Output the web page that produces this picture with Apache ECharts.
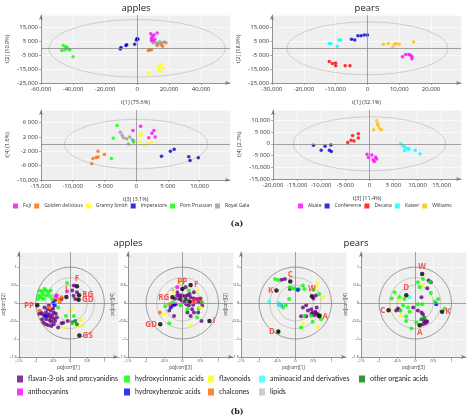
<!DOCTYPE html>
<html>
<head>
<meta charset="utf-8">
<script src="https://cdn.jsdelivr.net/npm/echarts@6/dist/echarts.min.js"></script>
<style>
  html, body { margin: 0; padding: 0; background: #fff; }
  #chart { width: 474px; height: 419px; }
</style>
</head>
<body>
<div id="chart"></div>
<script>
// cultivars and compound classes
const appleNames = ['Fuji', 'Golden delicious', 'Granny Smith', 'Imperatore', 'Pom Prussian', 'Royal Gala'];
const appleColors = ['#ff00ff', '#ff6a00', '#ffff00', '#0000cc', '#00ff00', '#999999'];
const pearNames = ['Abate', 'Conference', 'Decana', 'Kaiser', 'Williams'];
const pearColors = ['#ff00ff', '#0000cc', '#ff0000', '#00ffff', '#ffc000'];
const classNames = ['flavan-3-ols and procyanidins', 'anthocyanins', 'hydroxycinnamic acids', 'hydroxybenzoic acids',
  'flavonoids', 'chalcones', 'aminoacid and derivatives', 'lipids', 'other organic acids'];
const classColors = ['#660080', '#ff00ff', '#00ff00', '#0000ff', '#ffff00', '#ff6600', '#33ffff', '#c0c0c0', '#008000'];

// score plots: [t_a, t_b, cultivar index]
const appleT12 = [
  [8500, 10500, 0], [10500, 9500, 0], [12500, 11000, 0], [9500, 8500, 0], [9000, 7000, 0], [11000, 6500, 0], [9000, 5500, 0], [10000, 5000, 0],
  [7000, -1500, 1], [8000, -1000, 1], [9000, -1000, 1], [12500, 2000, 1], [15000, 2500, 1], [16000, 1500, 1], [18000, 4000, 1],
  [7500, -18000, 2], [14000, -13000, 2], [15000, -11500, 2], [16500, -14500, 2], [14500, -16500, 2], [13000, -15500, 2],
  [-10500, -500, 3], [-10000, 500, 3], [-7000, 2000, 3], [-6500, 2500, 3], [-1500, 3000, 3], [-500, 6000, 3], [0, 7000, 3], [500, 6500, 3],
  [-46000, 2000, 4], [-44000, 1000, 4], [-47000, -1500, 4], [-45000, -1000, 4], [-43000, -500, 4], [-42000, -1000, 4], [-44500, 500, 4], [-40000, -6000, 4],
  [10000, 4000, 5], [11500, 4500, 5], [13000, 3500, 5], [14000, 4500, 5], [15500, 4000, 5], [17000, 4500, 5], [12500, 3000, 5]
];
const appleT34 = [
  [-500, 3800, 0], [700, 5000, 0], [2500, 3000, 0], [2800, 3800, 0], [3000, 2000, 0], [2000, 1800, 0],
  [-6000, -2000, 1], [-6300, -3700, 1], [-6000, -3600, 1], [-5000, -2900, 1], [-6800, -4000, 1], [-7000, -5500, 1],
  [600, 2500, 2], [900, 2800, 2], [600, 700, 2], [1200, -300, 2], [1600, -100, 2], [2000, 100, 2], [2500, 500, 2],
  [4000, -3400, 3], [5400, -2000, 3], [6000, -1400, 3], [8300, -3500, 3], [8500, -4600, 3], [9800, -3800, 3],
  [-3000, 5200, 4], [-3600, 1600, 4], [-1200, 0, 4], [-400, 600, 4], [-3900, -4000, 4],
  [-2500, 3300, 5], [-2200, 2500, 5], [-2000, 1800, 5], [-1500, 1500, 5], [-1000, 2000, 5], [-600, 1200, 5], [-400, 900, 5]
];
const pearT12 = [
  [11000, -6000, 0], [12000, -4500, 0], [13000, -4500, 0], [13500, -5000, 0], [14000, -6000, 0], [14000, -7500, 0],
  [-5000, 6500, 1], [-4000, 6000, 1], [-3000, 9000, 1], [-2000, 9000, 1], [-1000, 9500, 1], [0, 9500, 1],
  [-12000, -9500, 2], [-11000, -11000, 2], [-10000, -10500, 2], [-10000, -12500, 2], [-7000, -12500, 2], [-5500, -12500, 2],
  [-12000, 3500, 3], [-11500, 3500, 3], [-9000, 6000, 3], [-8500, 6000, 3], [-9500, 1500, 3],
  [5000, 3000, 4], [6500, 3500, 4], [8500, 3000, 4], [9000, 3500, 4], [10000, 3000, 4], [8000, 1000, 4], [14500, 4500, 4]
];
const pearT34 = [
  [-500, -4500, 0], [-200, -5800, 0], [500, -4800, 0], [800, -6800, 0], [1000, -7500, 0], [1300, -5600, 0], [1500, -6500, 0],
  [-11600, -600, 1], [-10000, -2800, 1], [-9200, -1000, 1], [-8000, -500, 1], [-8300, -2800, 1], [-7900, -3300, 1],
  [-4500, 500, 2], [-3800, 1500, 2], [-3500, 3500, 2], [-2300, 4300, 2], [-2300, 2500, 2], [-3200, 1200, 2],
  [6500, -100, 3], [7000, -900, 3], [7400, -1600, 3], [7300, -3000, 3], [8000, -2000, 3], [8200, -2300, 3], [9500, -2700, 3], [10500, -4300, 3],
  [1500, 9800, 4], [1700, 8500, 4], [1800, 7800, 4], [900, 6000, 4], [2100, 6500, 4], [2500, 6000, 4]
];

// correlation loadings: [pq_a, pq_b, class index]
const appleP12 = [
  [-0.85, -0.26, 0], [-0.8, -0.31, 0], [-0.75, -0.36, 0], [-0.71, -0.26, 0], [-0.66, -0.37, 0], [-0.62, -0.31, 0], [-0.57, -0.4, 0],
  [-0.53, -0.34, 0], [-0.48, -0.43, 0], [-0.78, -0.54, 0], [-0.71, -0.59, 0], [-0.64, -0.62, 0], [-0.55, -0.64, 0], [-0.48, -0.59, 0],
  [-0.44, -0.5, 0], [-0.39, -0.4, 0], [-0.75, -0.12, 0], [-0.66, -0.17, 0], [-0.57, -0.21, 0], [-0.48, -0.26, 0], [-0.62, -0.07, 0],
  [-0.25, -0.56, 0], [-0.07, -0.5, 0], [0.06, -0.54, 0], [0.11, 0.49, 0], [0.06, 0.35, 0], [0.15, 0.11, 0], [-0.44, 0.07, 0],
  [-0.25, 0.11, 0], [-0.82, -0.45, 0], [-0.35, -0.68, 0], [-0.6, -0.48, 0], [-0.5, -0.15, 0], [-0.42, -0.3, 0], [-0.7, -0.45, 0],
  [0.2, 0.3, 0], [0.1, 0.2, 0], [-0.2, -0.55, 0], [-0.9, -0.3, 0], [-0.55, -0.52, 0],
  [-0.39, 0.22, 1], [-0.09, 0.32, 1], [-0.42, 0.18, 1],
  [-0.89, 0.35, 2], [-0.82, 0.32, 2], [-0.75, 0.39, 2], [-0.71, 0.35, 2], [-0.64, 0.3, 2], [-0.57, 0.35, 2], [-0.91, 0.21, 2],
  [-0.85, 0.16, 2], [-0.94, 0.11, 2], [-0.78, 0.11, 2], [-0.71, 0.21, 2], [-0.53, 0.11, 2], [-0.09, 0.56, 2], [-0.35, -0.12, 2],
  [-0.12, -0.36, 2], [0.11, -0.36, 2], [0.06, -0.56, 2], [-0.8, 0.25, 2], [-0.6, 0.2, 2],
  [-0.45, -0.06, 3], [-0.71, -0.36, 3], [-0.5, 0, 3],
  [0.05, -0.15, 4], [0, -0.21, 4], [0.31, -0.47, 4], [0.36, -0.64, 4], [0.2, -0.64, 4], [-0.18, -0.7, 4],
  [-0.89, -0.21, 5], [-0.25, 0.16, 5], [-0.35, 0.11, 5], [-0.62, -0.12, 5], [-0.3, 0.02, 5],
  [-0.52, 0.22, 7],
  [0.2, -0.59, 8], [0.15, -0.5, 8]
];
const appleP34 = [
  [-0.14, 0.21, 0], [-0.07, 0.22, 0], [0, 0.21, 0], [0.07, 0.19, 0], [0.14, 0.22, 0], [0.23, 0.16, 0], [0.32, 0.13, 0], [0.41, 0.11, 0],
  [0.5, 0.13, 0], [-0.09, 0.11, 0], [-0.02, 0.07, 0], [0.05, 0.02, 0], [0.11, -0.03, 0], [0.18, -0.07, 0], [0.27, -0.17, 0],
  [0.32, -0.26, 0], [0.23, -0.36, 0], [0.14, -0.26, 0], [-0.18, -0.03, 0], [-0.27, -0.07, 0], [-0.36, -0.21, 0], [-0.23, -0.36, 0],
  [0.45, 0.02, 0], [0.55, -0.07, 0], [-0.14, 0.3, 0], [0.44, -0.26, 0], [0.53, -0.5, 0], [0.09, 0.44, 0], [0.32, 0.3, 0],
  [-0.05, 0.15, 0], [0.1, 0.1, 0], [0.2, 0.25, 0], [-0.2, 0.12, 0], [0.3, -0.05, 0],
  [-0.14, 0.44, 1], [0.32, 0.06, 1],
  [-0.27, 0.02, 2], [-0.47, -0.09, 2], [-0.36, -0.56, 2], [0.14, -0.17, 2], [0.41, -0.4, 2], [-0.05, -0.07, 2], [0.55, 0.02, 2],
  [0.18, 0.35, 2], [0.45, -0.15, 2],
  [-0.32, -0.12, 3], [-0.22, -0.05, 3],
  [-0.09, 0.6, 4], [-0.02, 0.56, 4], [0.41, 0.35, 4], [0.5, -0.12, 4], [-0.5, -0.31, 4], [0.23, -0.64, 4], [-0.23, 0.3, 4],
  [-0.62, -0.26, 5], [-0.36, -0.03, 5], [0.27, 0.02, 5],
  [-0.27, 0.38, 7],
  [0.09, 0.12, 8]
];
const pearP12 = [
  [-0.38, 0.65, 0], [-0.29, 0.67, 0], [-0.15, 0.39, 0], [0.21, -0.12, 0], [0.3, -0.06, 0], [0.35, -0.21, 0], [0.44, -0.17, 0],
  [0.48, -0.26, 0], [0.55, -0.24, 0], [0.62, -0.31, 0], [0.53, -0.34, 0], [0.16, -0.37, 0], [0.3, -0.37, 0], [0.59, -0.12, 0],
  [0.57, 0.21, 0], [0.5, 0.13, 0], [0.58, -0.28, 0], [0.45, -0.3, 0],
  [-0.56, 0.67, 2], [-0.47, 0.64, 2], [-0.15, 0.44, 2], [-0.06, 0.41, 2], [0.01, 0.39, 2], [0.1, 0.39, 2], [0.21, 0.49, 2],
  [0.25, 0.39, 2], [0.5, 0.37, 2], [0.66, 0.25, 2], [-0.17, 0.11, 2], [-0.26, -0.06, 2], [-0.34, -0.12, 2], [-0.45, -0.03, 2],
  [0.25, -0.36, 2], [0.44, -0.36, 2], [0.48, -0.52, 2], [0.16, -0.68, 2], [0.71, -0.45, 2], [-0.47, -0.78, 2],
  [0.07, 0.36, 3], [-0.4, -0.06, 3],
  [0.6, 0.56, 4], [0.57, 0.44, 4], [0.77, 0.16, 4], [0.21, -0.56, 4], [0.62, -0.66, 4],
  [-0.72, 0.04, 6], [-0.45, 0, 6], [-0.41, -0.07, 6],
  [0.68, -0.34, 8]
];
const pearP34 = [
  [-0.53, -0.21, 0], [-0.48, -0.15, 0], [-0.44, -0.19, 0], [-0.06, -0.12, 0], [0.17, -0.26, 0], [0.21, -0.31, 0], [0.24, -0.5, 0],
  [0.28, -0.56, 0], [0.33, -0.52, 0], [0.21, -0.59, 0], [0.37, 0.63, 0], [0.43, 0.58, 0], [0.33, 0.41, 0], [0.17, 0.16, 0],
  [0.07, -0.21, 0], [0.3, -0.5, 0],
  [-0.57, 0.3, 2], [-0.65, 0.13, 2], [-0.44, 0.16, 2], [-0.3, 0.11, 2], [-0.34, -0.06, 2], [-0.41, -0.21, 2], [-0.2, -0.12, 2],
  [-0.16, -0.24, 2], [-0.25, -0.37, 2], [-0.25, -0.5, 2], [-0.11, -0.71, 2], [0.03, -0.54, 2], [0.07, 0.58, 2], [0.21, 0.67, 2],
  [0.12, 0.44, 2], [0.4, 0.58, 2], [0.43, 0.28, 2], [0.63, 0.11, 2], [0.81, -0.15, 2], [0.54, 0.04, 2], [0.07, -0.03, 2], [0.19, -0.03, 2],
  [0.58, -0.03, 3],
  [-0.44, 0.07, 4], [-0.69, -0.21, 4], [-0.41, -0.36, 4], [0.21, 0.5, 4],
  [-0.16, 0.16, 6],
  [0.17, -0.45, 8], [0.25, -0.4, 8]
];

// cultivar positions in the loading plots
const appleC12 = [[0.2, 0.47, 'F'], [0.26, 0.22, 'RG'], [0.25, 0.09, 'GD'], [-0.96, -0.06, 'PP'], [-0.11, 0.17, 'I'], [0.27, -0.9, 'GS']];
const appleC34 = [[0.23, 0.5, 'F'], [0, 0.39, 'PP'], [-0.27, 0.16, 'RG'], [0.2, 0.04, 'GS'], [-0.61, -0.59, 'GD'], [0.75, -0.5, 'I']];
const pearC12 = [[-0.14, 0.6, 'C'], [-0.52, 0.35, 'K'], [0.46, 0.19, 'W'], [0.66, -0.37, 'A'], [-0.47, -0.8, 'D']];
const pearC34 = [[0.19, 0.81, 'W'], [-0.25, 0.22, 'D'], [-0.74, -0.2, 'C'], [0.74, -0.24, 'K'], [0.12, -0.62, 'A']];

const FONT = 'Open Sans';
const grids = [], xAxes = [], yAxes = [], series = [];

function fmt(v) {
  if (v === 0) return '0';
  const a = Math.abs(v), s = v < 0 ? '-' : '';
  return s + Math.floor(a / 1000) + (a >= 10000 ? ',' : ' ') + String(a % 1000).padStart(3, '0');
}

function ellipse(a, b) {
  const pts = [];
  for (let i = 0; i <= 120; i++) {
    const t = i / 120 * Math.PI * 2;
    pts.push([a * Math.cos(t), b * Math.sin(t)]);
  }
  return pts;
}

function addPanel(p) {
  const i = grids.length;
  const small = !!p.small;
  grids.push({ left: p.left, top: p.top, width: p.width, height: p.height, show: true,
    backgroundColor: '#efefef', borderWidth: 0 });
  const common = {
    gridIndex: i, type: 'value',
    axisLine: { show: true, onZero: false, symbol: ['none', 'arrow'], symbolSize: [3, 5],
      lineStyle: { color: '#777', width: 0.8 } },
    axisTick: { show: true, length: 2, lineStyle: { color: '#777', width: 0.6 } },
    splitLine: { show: true, lineStyle: { color: '#f9f9f9', width: 1 } },
    nameLocation: 'middle',
    nameTextStyle: { fontSize: small ? 4.5 : 5.5, color: '#333', fontFamily: FONT }
  };
  const lab = { fontSize: small ? 4 : 6, color: '#333', fontFamily: FONT, margin: small ? 2 : 3,
    showMaxLabel: false, formatter: small ? (v => String(v)) : fmt };
  xAxes.push(Object.assign({}, common, { min: p.x[0], max: p.x[1], interval: p.x[2], name: p.xName,
    nameGap: small ? 8 : 16, axisLabel: lab }));
  yAxes.push(Object.assign({}, common, { min: p.y[0], max: p.y[1], interval: p.y[2], name: p.yName,
    nameGap: small ? 8 : 31, axisLabel: lab }));

  // confidence ellipse / correlation circles, with the zero lines
  const rings = small ? [[1, 1, '#9a9a9a'], [0.707, 0.707, '#bdbdbd'], [0.5, 0.5, '#bdbdbd']] : [[p.ell[0], p.ell[1], '#c4c4c4']];
  rings.forEach((r, k) => {
    series.push({
      type: 'line', xAxisIndex: i, yAxisIndex: i, data: ellipse(r[0], r[1]), showSymbol: false, silent: true, z: 1,
      lineStyle: { color: r[2], width: small && k === 0 ? 1 : 0.8 },
      markLine: k === 0 ? { silent: true, symbol: 'none', label: { show: false },
        lineStyle: { color: '#8a8a8a', width: 0.8, type: 'solid' }, data: [{ xAxis: 0 }, { yAxis: 0 }] } : undefined
    });
  });
  return i;
}

function addGroups(i, rows, names, colors, size) {
  names.forEach((n, c) => {
    series.push({
      type: 'scatter', name: n, xAxisIndex: i, yAxisIndex: i, symbolSize: size, z: 3,
      itemStyle: { color: colors[c] },
      data: rows.filter(r => r[2] === c).map(r => [r[0], r[1]])
    });
  });
}

function addCultivars(i, rows, pos) {
  series.push({
    type: 'scatter', xAxisIndex: i, yAxisIndex: i, symbolSize: 4.5, z: 5,
    itemStyle: { color: '#000' },
    label: { show: true, color: '#ff2a2a', fontSize: 8, fontWeight: 'bold', fontFamily: FONT, distance: 1,
      formatter: q => q.data.value[2] },
    data: rows.map(r => ({ value: r, label: { position: pos[r[2]] || 'right' } }))
  });
}

const scoreBoxes = [
  { left: 41, top: 15, width: 189, height: 68, x: [-60000, 58000, 20000], y: [-25000, 24000, 10000],
    xName: 't[1] (75.6%)', yName: 't[2] (10.9%)', ell: [55000, 20700] },
  { left: 272, top: 15, width: 189, height: 68, x: [-30000, 29400, 10000], y: [-25000, 24000, 10000],
    xName: 't[1] (32.1%)', yName: 't[2] (18.9%)', ell: [25300, 19000] },
  { left: 41, top: 110, width: 189, height: 70, x: [-15000, 14800, 5000], y: [-10000, 9500, 4000],
    xName: 't[3] (3.1%)', yName: 't[4] (1.6%)', ell: [11300, 6900] },
  { left: 273, top: 110, width: 188, height: 69, x: [-20000, 19000, 5000], y: [-15000, 14400, 5000],
    xName: 't[3] (11.4%)', yName: 't[4] (2.7%)', ell: [15800, 11500] }
];
const g0 = addPanel(scoreBoxes[0]); addGroups(g0, appleT12, appleNames, appleColors, 3.5);
const g1 = addPanel(scoreBoxes[1]); addGroups(g1, pearT12, pearNames, pearColors, 3.5);
const g2 = addPanel(scoreBoxes[2]); addGroups(g2, appleT34, appleNames, appleColors, 3.5);
const g3 = addPanel(scoreBoxes[3]); addGroups(g3, pearT34, pearNames, pearColors, 3.5);

const loadLefts = [13, 128, 241, 361];
const loadNames = [['pq[corr][1]', 'pq[corr][2]'], ['pq[corr][3]', 'pq[corr][4]'], ['pq[corr][1]', 'pq[corr][2]'], ['pq[corr][3]', 'pq[corr][4]']];
const loadRows = [appleP12, appleP34, pearP12, pearP34];
const cultRows = [appleC12, appleC34, pearC12, pearC34];
const cultPos = [
  { F: 'top', RG: 'right', GD: 'right', PP: 'left', I: 'top', GS: 'right' },
  { F: 'right', PP: 'top', RG: 'left', GS: 'right', GD: 'left', I: 'right' },
  { C: 'top', K: 'left', W: 'top', A: 'right', D: 'left' },
  { W: 'top', D: 'top', C: 'left', K: 'right', A: 'bottom' }
];
loadLefts.forEach((l, k) => {
  const gi = addPanel({ left: l, top: 252, width: 105, height: 105, small: true,
    x: [-1.5, 1.4, 0.5], y: [-1.5, 1.42, 0.5], xName: loadNames[k][0], yName: loadNames[k][1] });
  addGroups(gi, loadRows[k], classNames, classColors, 4);
  addCultivars(gi, cultRows[k], cultPos[k]);
});

const legendBase = { icon: 'rect', selectedMode: false, padding: 0 };
const bottomCols = [[0, 1, 17], [2, 3, 124], [4, 5, 208], [6, 7, 259], [8, null, 359]];
const legends = [
  Object.assign({}, legendBase, { data: appleNames, left: 13, top: 203.5, itemWidth: 5, itemHeight: 5, itemGap: 3,
    textStyle: { fontSize: 5, color: '#333', fontFamily: FONT } }),
  Object.assign({}, legendBase, { data: pearNames, left: 298, top: 203.5, itemWidth: 5, itemHeight: 5, itemGap: 3,
    textStyle: { fontSize: 5, color: '#333', fontFamily: FONT } })
].concat(bottomCols.map(c => Object.assign({}, legendBase, {
  data: [classNames[c[0]]].concat(c[1] === null ? [] : [classNames[c[1]]]),
  left: c[2], top: 375, orient: 'vertical', itemWidth: 6, itemHeight: 7, itemGap: 5,
  textStyle: { fontSize: 7, lineHeight: 8, color: '#222', fontFamily: 'Lato' }
})));

const title = (t, x, y, size, serif) => ({
  type: 'text', x: x, y: y, silent: true,
  style: { text: t, fontSize: size, fontFamily: serif ? 'DejaVu Serif' : FONT, fontWeight: serif ? 'bold' : 'normal',
    fill: '#222', textAlign: 'center', textVerticalAlign: 'middle' }
});

const chart = echarts.init(document.getElementById('chart'));
chart.setOption({
  animation: false,
  backgroundColor: '#fff',
  grid: grids,
  xAxis: xAxes,
  yAxis: yAxes,
  legend: legends,
  series: series,
  graphic: [
    title('apples', 136, 8, 9.5), title('pears', 367, 8, 9.5), title('(a)', 237, 224, 8, true),
    title('apples', 128, 243, 9.5), title('pears', 356, 243, 9.5), title('(b)', 237, 412, 8, true)
  ]
});
</script>
</body>
</html>
